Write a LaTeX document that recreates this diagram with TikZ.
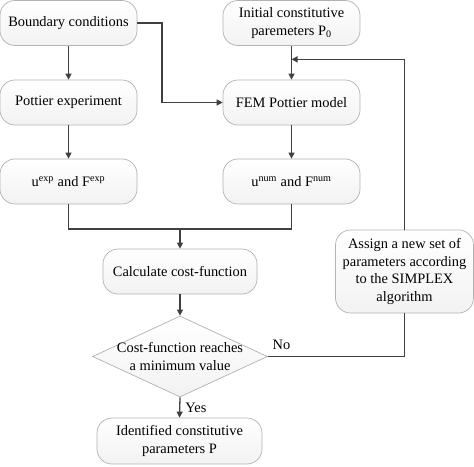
\documentclass[tikz,border=0pt]{standalone}
\usepackage{fontspec}
\setmainfont{Liberation Serif}
\usepackage{tikz}
\usetikzlibrary{arrows.meta, positioning, shapes.geometric, calc}

\begin{document}
\begin{tikzpicture}[x=0.3mm, y=-0.3mm,
    stage/.style={draw=gray!60, line width=0.6pt, rounded corners=4.5mm, top color=white, bottom color=gray!10,
                  minimum width=41.1mm, minimum height=13.5mm, align=center, inner sep=1pt,
                  font=\fontsize{12.3}{15}\selectfont},
    decision/.style={draw=gray!60, line width=0.6pt, diamond, top color=white, bottom color=gray!10,
                     minimum width=52.5mm, minimum height=24.3mm, inner sep=0pt},
    link/.style={draw=black!75, line width=1.1pt, sharp corners},
    flow/.style={link, -{Triangle[length=1.8mm, width=1.8mm]}},
    tag/.style={font=\fontsize{12.3}{15}\selectfont},
]
  \useasboundingbox (0,0) rectangle (474,466);

  % first row
  \node[stage] (bc)   at (68.5, 23)  {Boundary conditions};
  \node[stage] (init) at (291.5, 23) {Initial constitutive\\paremeters P\textsubscript{0}};

  % models
  \node[stage] (exp) at (68.5, 102.5)  {Pottier experiment};
  \node[stage] (fem) at (291.5, 102.5) {FEM Pottier model};

  % results
  \node[stage] (uexp) at (68.5, 181.5)  {u\textsuperscript{exp} and F\textsuperscript{exp}};
  \node[stage] (unum) at (291.5, 181.5) {u\textsuperscript{num} and F\textsuperscript{num}};

  \node[stage, minimum width=46.2mm] (cost) at (180, 271.5) {Calculate cost-function};
  \node[decision] (dec) at (180, 356.5) {};
  \node[tag, align=center] (dectxt) at (dec.center) {Cost-function reaches\\a minimum value};
  \node[stage, minimum width=49.5mm, minimum height=13.8mm] (ident) at (179.5, 441)
      {Identified constitutive\\parameters P};
  \node[stage, minimum width=41.4mm, minimum height=24.9mm] (assign) at (404.5, 271.5)
      {Assign a new set of\\parameters according\\to the SIMPLEX\\algorithm};

  % connectors
  \coordinate (bend) at (162, 23);
  \coordinate (join) at (180, 229);
  \coordinate (back) at ($(init.south)!0.4!(fem.north)$);
  \draw[flow] (bc.south) -- (exp.north);
  \draw[flow] (bc.east) -- (bend) |- (fem.west);
  \draw[flow] (init.south) -- (fem.north);
  \draw[flow] (exp.south) -- (uexp.north);
  \draw[flow] (fem.south) -- (unum.north);
  \draw[link] (uexp.south) |- (join) -| (unum.south);
  \draw[flow] (join) -- (cost.north);
  \draw[flow] (cost.south) -- (dec.north);
  \draw[flow] (dec.south) -- node[tag, right, xshift=1pt] {Yes} (ident.north);
  \draw[link] (dec.east) -- node[tag, pos=0.1, above, yshift=2pt] {No} (dec.east -| assign.south) -- (assign.south);
  \draw[flow] (assign.north) |- (back);
\end{tikzpicture}
\end{document}
